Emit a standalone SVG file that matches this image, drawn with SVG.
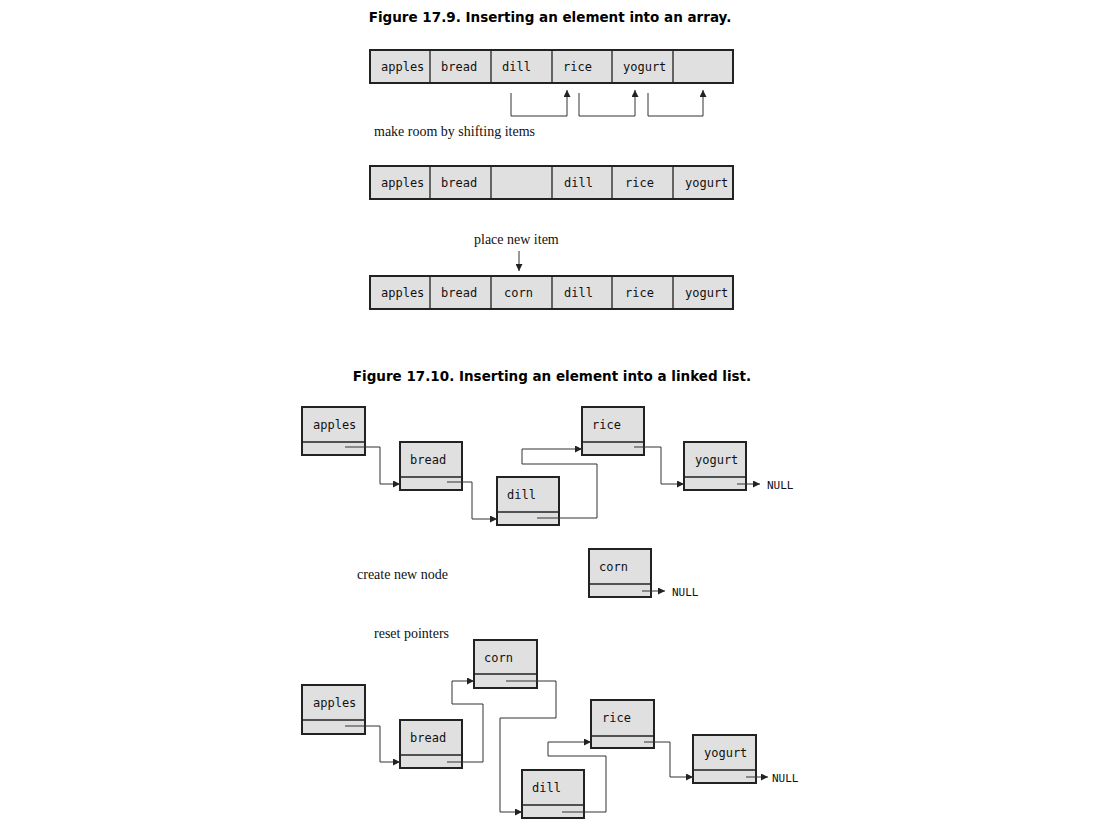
<svg xmlns="http://www.w3.org/2000/svg" width="1110" height="833" viewBox="0 0 1110 833">
<defs>
<style>
.t{font-family:"DejaVu Sans",Verdana,sans-serif;font-weight:bold;font-size:13.5px;fill:#000;text-anchor:middle}
.c{fill:#e0e0e0;stroke:#222;stroke-width:2}
.d{stroke:#222;stroke-width:1.3}
.m{font-family:"DejaVu Sans Mono","Liberation Mono",monospace;font-size:12px;fill:#111}
.s{font-family:"Liberation Serif",serif;font-size:14px;fill:#111}
.k{fill:none;stroke:#333;stroke-width:1;marker-end:url(#a)}
</style>
<marker id="a" viewBox="0 0 10 10" refX="10" refY="5" markerWidth="7" markerHeight="7" orient="auto" markerUnits="userSpaceOnUse"><path d="M0,0L10,5L0,10z" fill="#222"/></marker>
</defs>
<rect width="1110" height="833" fill="#fff"/>
<text class="t" x="550" y="22">Figure 17.9. Inserting an element into an array.</text>
<text class="t" x="552" y="381">Figure 17.10. Inserting an element into a linked list.</text>
<g id="array1">
<rect class="c" x="370" y="50" width="363" height="33"/>
<path class="d" d="M430,50V83M491,50V83M552,50V83M612,50V83M673,50V83"/>
<text class="m" x="381" y="71">apples</text><text class="m" x="441" y="71">bread</text><text class="m" x="502" y="71">dill</text><text class="m" x="563" y="71">rice</text><text class="m" x="623" y="71">yogurt</text>
</g>
<g id="array2">
<rect class="c" x="370" y="166" width="363" height="33"/>
<path class="d" d="M430,166V199M491,166V199M552,166V199M612,166V199M673,166V199"/>
<text class="m" x="381" y="187">apples</text><text class="m" x="441" y="187">bread</text><text class="m" x="564" y="187">dill</text><text class="m" x="625" y="187">rice</text><text class="m" x="685" y="187">yogurt</text>
</g>
<g id="array3">
<rect class="c" x="370" y="276" width="363" height="33"/>
<path class="d" d="M430,276V309M491,276V309M552,276V309M612,276V309M673,276V309"/>
<text class="m" x="381" y="297">apples</text><text class="m" x="441" y="297">bread</text><text class="m" x="504" y="297">corn</text><text class="m" x="564" y="297">dill</text><text class="m" x="625" y="297">rice</text><text class="m" x="685" y="297">yogurt</text>
</g>
<g id="labels">
<text class="s" x="374" y="136">make room by shifting items</text>
<text class="s" x="474" y="244">place new item</text>
<text class="s" x="357" y="579">create new node</text>
<text class="s" x="374" y="638">reset pointers</text>
<text class="m" x="767" y="489" style="font-size:11px">NULL</text>
<text class="m" x="672" y="596" style="font-size:11px">NULL</text>
<text class="m" x="772" y="782" style="font-size:11px">NULL</text>
</g>
<g id="nodes">
<g id="n-apples1"><rect class="c" x="302" y="407" width="63" height="48"/><path class="d" d="M302,442H365"/><text class="m" x="313" y="429">apples</text></g>
<g id="n-bread1"><rect class="c" x="400" y="442" width="62" height="48"/><path class="d" d="M400,477H462"/><text class="m" x="410" y="464">bread</text></g>
<g id="n-dill1"><rect class="c" x="497" y="477" width="62" height="48"/><path class="d" d="M497,512H559"/><text class="m" x="507" y="499">dill</text></g>
<g id="n-rice1"><rect class="c" x="582" y="407" width="62" height="48"/><path class="d" d="M582,442H644"/><text class="m" x="592" y="429">rice</text></g>
<g id="n-yogurt1"><rect class="c" x="684" y="442" width="62" height="48"/><path class="d" d="M684,477H746"/><text class="m" x="695" y="464">yogurt</text></g>
<g id="n-corn"><rect class="c" x="589" y="549" width="62" height="48"/><path class="d" d="M589,584H651"/><text class="m" x="599" y="571">corn</text></g>
<g id="n-apples2"><rect class="c" x="302" y="685" width="63" height="49"/><path class="d" d="M302,720H365"/><text class="m" x="313" y="707">apples</text></g>
<g id="n-bread2"><rect class="c" x="400" y="720" width="62" height="48"/><path class="d" d="M400,755H462"/><text class="m" x="410" y="742">bread</text></g>
<g id="n-corn2"><rect class="c" x="474" y="640" width="63" height="48"/><path class="d" d="M474,674H537"/><text class="m" x="484" y="662">corn</text></g>
<g id="n-rice2"><rect class="c" x="591" y="700" width="63" height="48"/><path class="d" d="M591,736H654"/><text class="m" x="602" y="722">rice</text></g>
<g id="n-yogurt2"><rect class="c" x="693" y="735" width="63" height="48"/><path class="d" d="M693,770H756"/><text class="m" x="704" y="757">yogurt</text></g>
<g id="n-dill2"><rect class="c" x="522" y="770" width="62" height="48"/><path class="d" d="M522,805H584"/><text class="m" x="532" y="792">dill</text></g>
</g>
<g id="connectors">
<path class="k" d="M511,93V116H567V90"/>
<path class="k" d="M579,93V116H635V90"/>
<path class="k" d="M648,93V116H703V90"/>
<path class="k" d="M519,251V271"/>
<path class="k" d="M345,447H380V484H400"/>
<path class="k" d="M447,482H472V519H497"/>
<path class="k" d="M537,518H597V464H522V449H582"/>
<path class="k" d="M634,447H661V484H684"/>
<path class="k" d="M737,484H760"/>
<path class="k" d="M642,591H665"/>
<path class="k" d="M345,726H380V762H400"/>
<path class="k" d="M447,762H483V704H452V681H474"/>
<path class="k" d="M506,681H556V718H500V812H522"/>
<path class="k" d="M562,812H606V756H548V742H591"/>
<path class="k" d="M644,742H670V777H693"/>
<path class="k" d="M746,777H768"/>
</g>
</svg>
